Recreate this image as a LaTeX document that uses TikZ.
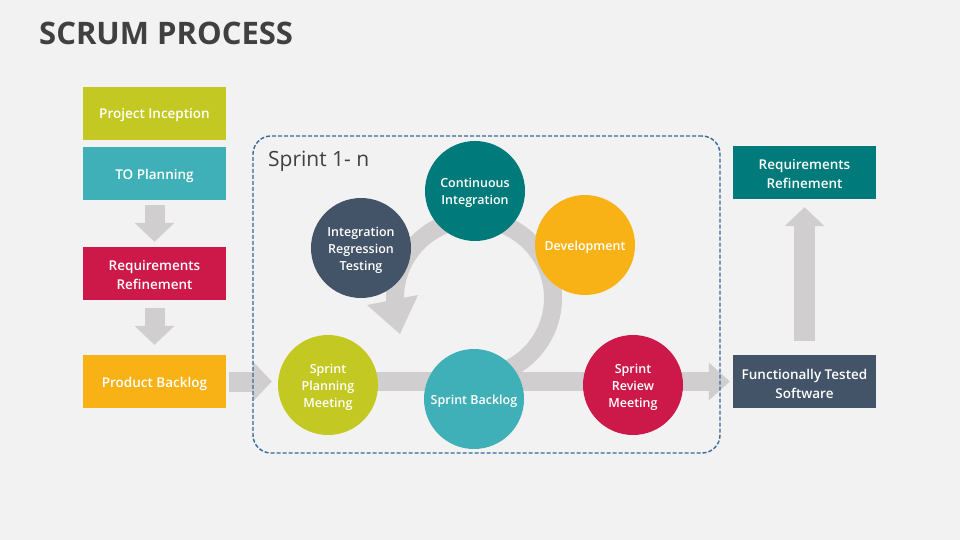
\documentclass[tikz,border=0pt]{standalone}
\usepackage{fontspec}
\setmainfont{Open Sans}
\newfontfamily\semib{Open Sans Semibold}
\usetikzlibrary{arrows.meta}
\definecolor{bgc}{RGB}{242,242,242}
\definecolor{titlegray}{RGB}{64,64,64}
\definecolor{limec}{RGB}{195,201,34}
\definecolor{tealc}{RGB}{64,176,184}
\definecolor{crimc}{RGB}{204,25,74}
\definecolor{ambc}{RGB}{249,178,22}
\definecolor{dtealc}{RGB}{0,122,122}
\definecolor{slatec}{RGB}{67,83,104}
\definecolor{arrowgray}{RGB}{208,206,206}
\definecolor{dashblue}{RGB}{56,105,155}
\pgfdeclarelayer{back}
\pgfsetlayers{back,main}
\begin{document}
\begin{tikzpicture}[x=1pt,y=-1pt,
  box/.style={rectangle, minimum width=143pt, minimum height=53pt, inner sep=0pt},
  boxtext/.style={text=white, align=center, inner sep=0pt, yshift=-2pt,
    font=\semib\fontsize{13.5}{19}\selectfont},
  disc/.style={circle, minimum size=100pt, inner sep=0pt},
  disctext/.style={text=white, align=center, inner sep=0pt, yshift=-2pt,
    font=\semib\fontsize{12.5}{17}\selectfont},
  blockarrow/.style={draw=arrowgray, line width=20pt,
    -{Triangle[width=40pt,length=19pt,line width=0pt]}},
  bandarrow/.style={draw=arrowgray, line width=19pt,
    -{Triangle[width=38pt,length=21pt,line width=0pt]}},
]
\begin{pgfonlayer}{back}
\fill[bgc] (0,0) rectangle (960,540);
\end{pgfonlayer}
\useasboundingbox (0,0) rectangle (960,540);

% title
\node[anchor=base west, inner sep=0pt, text=titlegray,
  font=\bfseries\fontsize{31}{36}\selectfont] (title) at (39,45) {SCRUM PROCESS};

% left column
\node[box, fill=limec, label={[boxtext]center:Project Inception}] (pi)  at (154.5,113.5) {};
\node[box, fill=tealc, label={[boxtext]center:TO Planning}] (tpl) at (154.5,173.5) {};
\node[box, fill=crimc, label={[boxtext]center:{Requirements\\Refinement}}] (rr1) at (154.5,273.5) {};
\node[box, fill=ambc, label={[boxtext]center:Product Backlog}]  (pb)  at (154.5,381.5) {};

% right column
\node[box, fill=dtealc, label={[boxtext]center:{Requirements\\Refinement}}] (rr2) at (804.5,172.5) {};
\node[box, fill=slatec, label={[boxtext]center:{Functionally Tested\\Software}}] (fts) at (804.5,381.5) {};

% sprint frame
\node[draw=dashblue, dash pattern=on 4pt off 2pt, line width=1.4pt, rounded corners=18pt,
  minimum width=467pt, minimum height=317pt, inner sep=0pt] (sprint) at (486.5,294.5) {};
\node[anchor=base west, inner sep=0pt, text=titlegray,
  font=\fontsize{21}{25}\selectfont] (sprintlbl) at (268,167) {Sprint 1- n};

% circles
\node[disc, fill=dtealc, label={[disctext]center:{Continuous\\Integration}}] (ci)  at (475,191) {};
\node[disc, fill=slatec, label={[disctext]center:{Integration\\Regression\\Testing}}] (irt) at (361,248) {};
\node[disc, fill=ambc, label={[disctext]center:Development}]   (dev) at (585,245) {};
\node[disc, fill=limec, label={[disctext]center:{Sprint\\Planning\\Meeting}}]  (spm) at (328,385) {};
\node[disc, fill=tealc, label={[disctext]center:Sprint Backlog}]  (sb)  at (474,399) {};
\node[disc, fill=crimc, label={[disctext]center:{Sprint\\Review\\Meeting}}]  (srm) at (633,385) {};

\coordinate (ringc) at (474,298);

\begin{pgfonlayer}{back}
% down arrows
\draw[blockarrow] ([yshift=-5pt]tpl.south) -- ([yshift=5pt]rr1.north);
\draw[blockarrow] ([yshift=-8pt]rr1.south) -- ([yshift=10pt]pb.north);
% into sprint
\draw[blockarrow] ([xshift=3pt]pb.east) -- ([xshift=-6pt]spm.west |- pb.east);
% main band
\draw[bandarrow] (spm.center |- fts.west) -- ([xshift=-3pt]fts.west);
% up arrow
\draw[blockarrow, line width=21pt] ([yshift=14pt]fts.north) -- ([yshift=-8pt]rr2.south);
% circular arrow
\draw[arrowgray, line width=18pt] (ringc) ++(70:79) arc[start angle=70, end angle=-185, radius=79];
\fill[arrowgray] (367,305) -- (418,295) -- (400,334) -- cycle;
\end{pgfonlayer}
\end{tikzpicture}
\end{document}
